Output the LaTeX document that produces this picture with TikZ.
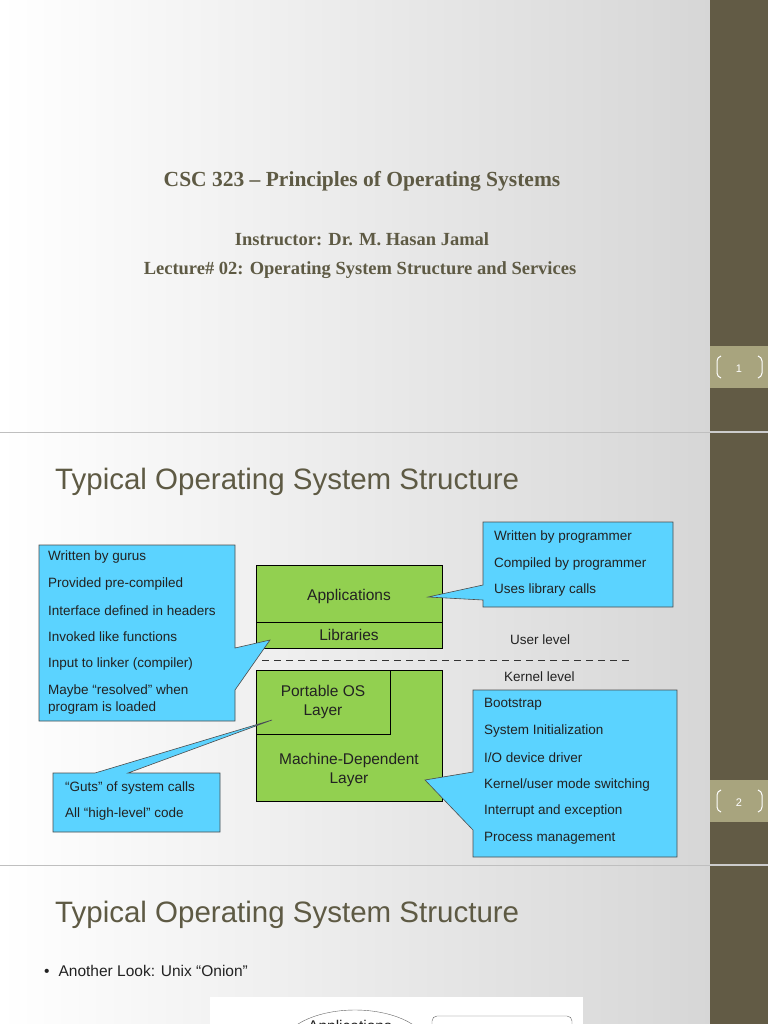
\documentclass[tikz,border=0pt]{standalone}
\usepackage{fontspec}
\setmainfont{Liberation Sans}
\newfontfamily\titlefont{Liberation Serif}
\definecolor{side}{HTML}{625B45}
\definecolor{band}{HTML}{A8A47E}
\definecolor{ttl}{HTML}{5E5A44}
\definecolor{grn}{HTML}{92D050}
\definecolor{cyanb}{HTML}{5BD3FF}
\definecolor{txt}{HTML}{222222}
\begin{document}
\begin{tikzpicture}[x=1pt,y=-1pt,
  call/.style={draw=black!70,fill=cyanb,line width=0.6pt},
  grnbox/.style={draw=black,fill=grn,line width=1pt},
  lbl/.style={font=\fontsize{13.5}{16.5}\selectfont,text=txt,anchor=west,inner sep=0pt},
  glbl/.style={font=\fontsize{15.5}{19}\selectfont,text=txt,align=center},
  head/.style={font=\fontsize{29.5}{34}\selectfont,text=ttl,anchor=west,inner sep=0pt}]
\useasboundingbox (0,0) rectangle (768,1024);
% slide backgrounds
\shade[left color=white,right color=black!16] (0,0) rectangle (710,432);
\shade[left color=white,right color=black!16] (0,433) rectangle (710,865);
\shade[left color=white,right color=black!16] (0,866) rectangle (710,1024);
\fill[black!25] (0,432) rectangle (710,433);
\fill[black!25] (0,865) rectangle (710,866);
% sidebar
\fill[side] (710,0) rectangle (768,1024);
\fill[band] (710,346) rectangle (768,388);
\fill[band] (710,780) rectangle (768,822);
\fill[black!20] (710,431) rectangle (768,433);
\fill[black!20] (710,864) rectangle (768,866);
\node[text=white,font=\fontsize{11}{12}\selectfont] (p1) at (739,369) {1};
\node[text=white,font=\fontsize{11}{12}\selectfont] (p2) at (739,803) {2};
\foreach \yy in {367,801}{
 \draw[white,line width=1pt] (721,\yy-11) to[out=200,in=90] (717,\yy-6) -- (717,\yy+6) to[out=-90,in=160] (721,\yy+11);
 \draw[white,line width=1pt] (758,\yy-11) to[out=-20,in=90] (762,\yy-6) -- (762,\yy+6) to[out=-90,in=20] (758,\yy+11);
}
% slide 1 titles
\node[font=\titlefont\bfseries\fontsize{21.5}{25}\selectfont,text=ttl] (t1) at (362,181) {CSC 323 – Principles of Operating Systems};
\node[font=\titlefont\bfseries\fontsize{18.5}{22}\selectfont,text=ttl] (t2) at (362,239) {Instructor: Dr. M. Hasan Jamal};
\node[font=\titlefont\bfseries\fontsize{18.5}{22}\selectfont,text=ttl] (t3) at (360,270) {Lecture\# 02: Operating System Structure and Services};
% slide 2
\node[head] (h2) at (55,482) {Typical Operating System Structure};
\node[grnbox,minimum width=186,minimum height=57,anchor=north west] (app) at (256,565) {};
\node[glbl] at (349,596) {Applications};
\node[grnbox,minimum width=186,minimum height=26,anchor=north west] (lib) at (256,622) {};
\node[glbl] at (349,635) {Libraries};
\node[grnbox,minimum width=186,minimum height=131,anchor=north west] (md) at (256,670) {};
\node[grnbox,minimum width=134,minimum height=64,anchor=north west] (pos) at (256,670) {};
\node[glbl] at (323,702) {Portable OS\\Layer};
\node[glbl] at (349,770) {Machine-Dependent\\Layer};
\coordinate (dl) at (262,660); \coordinate (dr) at (630,660);
\draw[black!80,dash pattern=on 7pt off 5pt] (dl) -- (dr);
\node[lbl] (ul) at (510,640) {User level};
\node[lbl] (kl) at (504,677) {Kernel level};
% callouts
\draw[call] (39,545) -- (235,545) -- (235,648) -- (270,640) -- (235,690) -- (235,721) -- (39,721) -- cycle;
\node[lbl] at (48,557) {Written by gurus};
\node[lbl] at (48,584) {Provided pre-compiled};
\node[lbl] at (48,611) {Interface defined in headers};
\node[lbl] at (48,637) {Invoked like functions};
\node[lbl] at (48,664) {Input to linker (compiler)};
\node[lbl,align=left,anchor=north west] at (48,685) {Maybe “resolved” when\\program is loaded};
\draw[call] (483,522) -- (673,522) -- (673,607) -- (483,607) -- (483,600) -- (428,597) -- (483,585) -- cycle;
\node[lbl] at (494,537) {Written by programmer};
\node[lbl] at (494,564) {Compiled by programmer};
\node[lbl] at (494,590) {Uses library calls};
\draw[call] (53,773) -- (95,773) -- (272,720) -- (128,773) -- (220,773) -- (220,832) -- (53,832) -- cycle;
\node[lbl] at (65,788) {“Guts” of system calls};
\node[lbl] at (65,814) {All “high-level” code};
\draw[call] (473,690) -- (677,690) -- (677,857) -- (473,857) -- (473,830) -- (425,780) -- (473,772) -- cycle;
\node[lbl] at (484,704) {Bootstrap};
\node[lbl] at (484,731) {System Initialization};
\node[lbl] at (484,758) {I/O device driver};
\node[lbl] at (484,785) {Kernel/user mode switching};
\node[lbl] at (484,811) {Interrupt and exception};
\node[lbl] at (484,838) {Process management};
% slide 3
\node[head] (h3) at (55,915) {Typical Operating System Structure};
\node[lbl,font=\fontsize{15.5}{18}\selectfont] (b1) at (44,971) {\textbullet\hspace{9pt}Another Look: Unix “Onion”};
\fill[white] (210,997) rectangle (583,1024);
\begin{scope}
\clip (210,997) rectangle (583,1024);
\draw[black!60] (355,1050) ellipse (75 and 40);
\node[glbl] at (350,1027) {Applications};
\draw[black!60,rounded corners=5pt] (432,1016) rectangle (572,1040);
\end{scope}
\end{tikzpicture}
\end{document}
